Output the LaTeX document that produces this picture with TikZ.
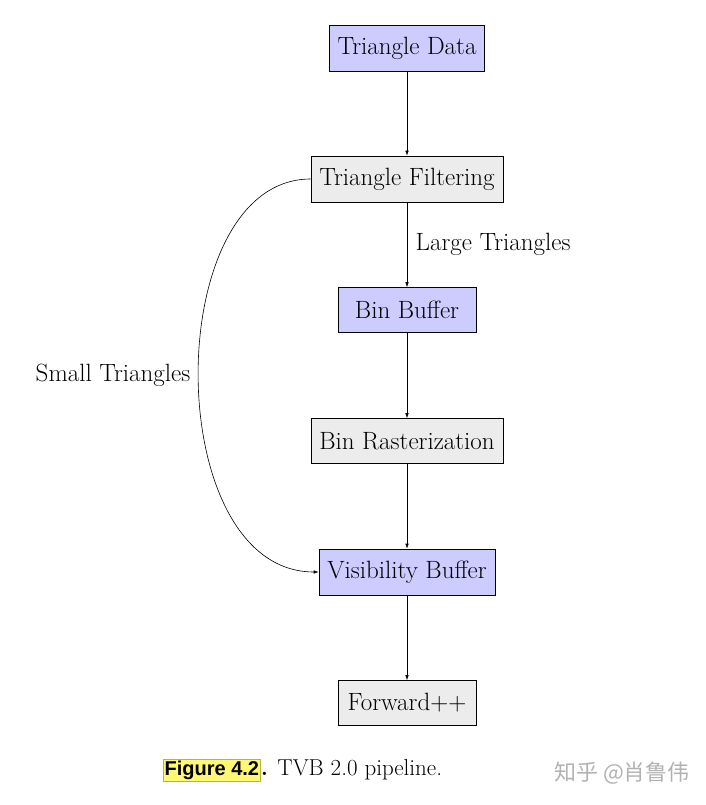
\documentclass[tikz,border=0pt]{standalone}
\usepackage{fontspec}
\newfontfamily\cjk{Noto Sans CJK SC}
\newfontfamily\sff{Liberation Sans}
\usetikzlibrary{arrows.meta}
\begin{document}
\begin{tikzpicture}[x=1pt,y=-1pt,
  box/.style={draw=black,line width=0.6pt,inner sep=0pt,font=\fontsize{25}{30}\selectfont},
  bl/.style={box,fill=blue!20},
  gr/.style={box,fill=gray!15},
  arr/.style={-{Latex[length=5pt,width=3.5pt]},line width=0.6pt},
  lab/.style={font=\fontsize{25}{30}\selectfont}]
\useasboundingbox (0,0) rectangle (705,805);
\node[bl,minimum width=155,minimum height=46] (td) at (407,48) {Triangle Data};
\node[gr,minimum width=192,minimum height=46] (tf) at (407,179) {Triangle Filtering};
\node[bl,minimum width=138,minimum height=45] (bb) at (407,310) {Bin Buffer};
\node[gr,minimum width=192,minimum height=45] (br) at (407,441) {Bin Rasterization};
\node[bl,minimum width=176,minimum height=46] (vb) at (407,572) {Visibility Buffer};
\node[gr,minimum width=138,minimum height=45] (fw) at (407,703) {Forward++};
\draw[arr] (td) -- (tf);
\draw[arr] (tf) -- node[lab,right=5pt] {Large Triangles} (bb);
\draw[arr] (bb) -- (br);
\draw[arr] (br) -- (vb);
\draw[arr] (vb) -- (fw);
\draw[arr] (tf.west) .. controls (160,179) and (160,572) .. (vb.west);
\node[lab] (st) at (113,375) {Small Triangles};
\node[fill=yellow!55,draw=yellow!70!black,line width=0.3pt,inner sep=1.5pt,font=\sff\bfseries\fontsize{20}{24}\selectfont,anchor=west] (fig) at (163,770) {Figure 4.2};
\node[anchor=west,inner sep=0pt,font=\fontsize{23}{27}\selectfont] (cap) at (fig.east) {\textbf{.} TVB 2.0 pipeline.};
\node[text=gray!60,font=\cjk\fontsize{22}{26}\selectfont] (wm) at (622,773) {知乎 @肖鲁伟};
\end{tikzpicture}
\end{document}
